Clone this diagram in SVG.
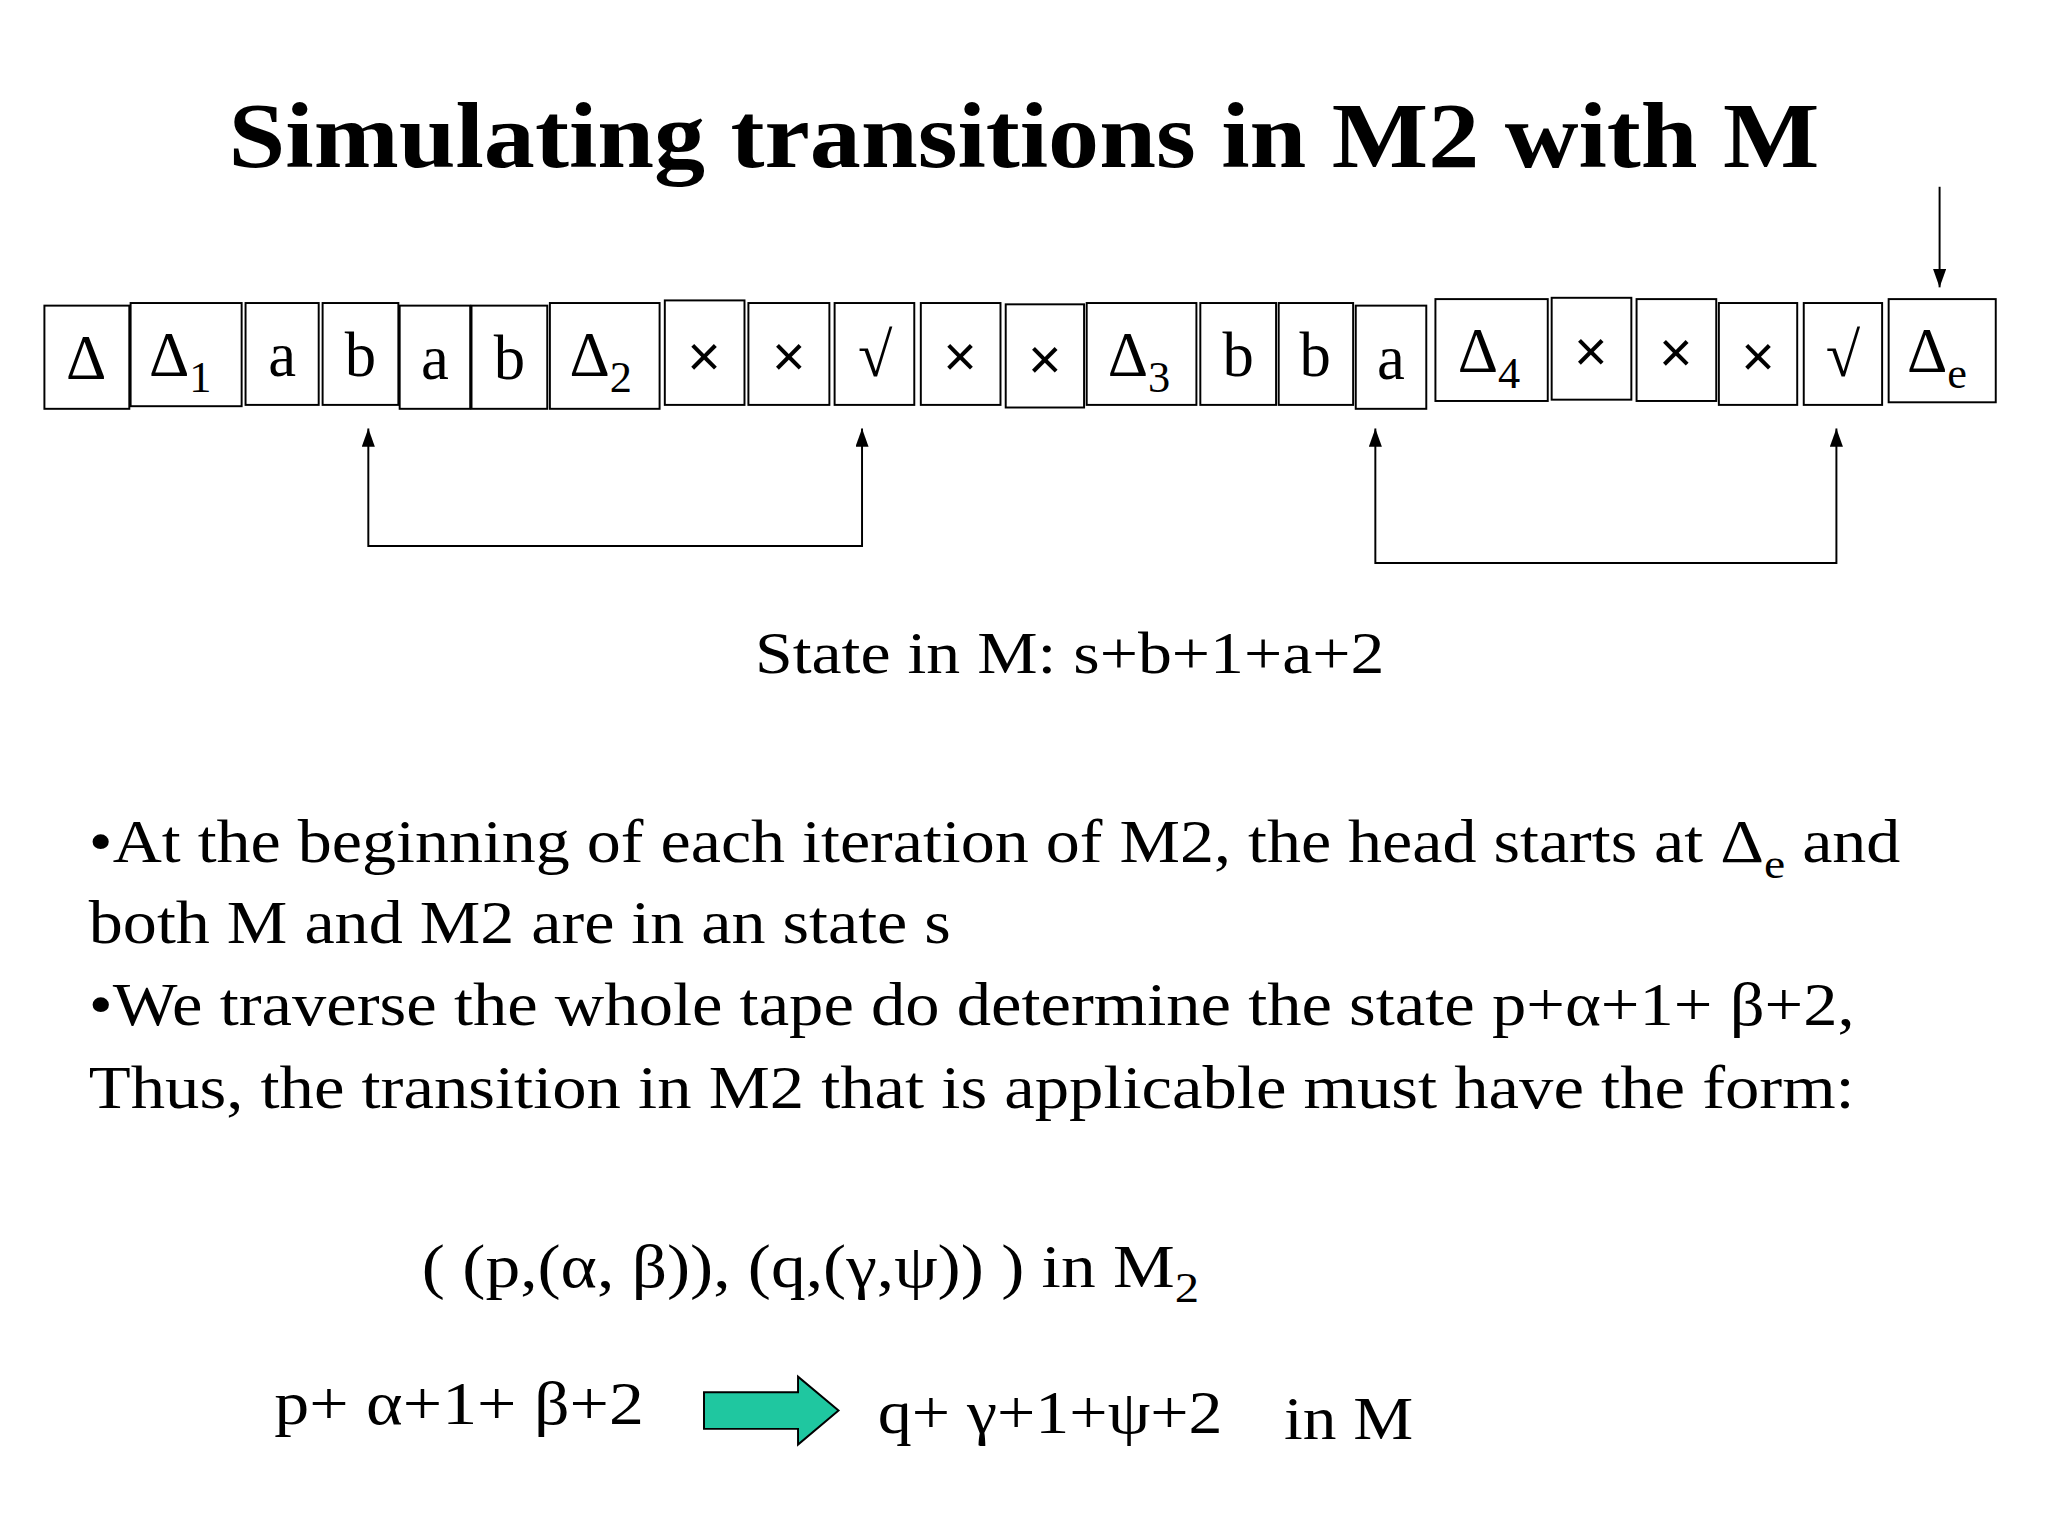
<svg xmlns="http://www.w3.org/2000/svg" width="2048" height="1536" viewBox="0 0 2048 1536">
<style>
text{font-family:"Liberation Serif","Times New Roman",serif;fill:#000}
.c rect{fill:#fff;stroke:#000;stroke-width:1.5}
.c text{font-size:48px;text-anchor:middle}
.c .x{font-family:"Liberation Sans",Arial,sans-serif;font-size:44px}
.ln{fill:none;stroke:#000;stroke-width:1.5}
.b{font-size:47px}
</style>
<defs><marker id="ah" markerWidth="14" markerHeight="10" refX="14" refY="5" orient="auto-start-reverse" markerUnits="userSpaceOnUse" viewBox="0 0 14 10"><path d="M0,0L14,5L0,10z" fill="#000"/></marker></defs>
<rect width="2048" height="1536" fill="#fff"/>
<g transform="scale(1.30612)">
<text x="175" y="128" font-size="72" font-weight="bold" textLength="1218" lengthAdjust="spacingAndGlyphs">Simulating transitions in M2 with M</text>
<g class="c" id="tape">
<g id="c1"><rect x="34" y="234" width="65" height="79"/><text x="66" y="290">Δ</text></g>
<g id="c2"><rect x="100" y="232" width="85" height="79"/><text x="138" y="288">Δ<tspan font-size="34" dy="12">1</tspan></text></g>
<g id="c3"><rect x="188" y="232" width="56" height="78"/><text x="216" y="288">a</text></g>
<g id="c4"><rect x="247" y="232" width="58" height="78"/><text x="276" y="288">b</text></g>
<g id="c5"><rect x="306" y="234" width="54" height="79"/><text x="333" y="290">a</text></g>
<g id="c6"><rect x="361" y="234" width="58" height="79"/><text x="390" y="290">b</text></g>
<g id="c7"><rect x="421" y="232" width="84" height="81"/><text x="460" y="288">Δ<tspan font-size="34" dy="12">2</tspan></text></g>
<g id="c8"><rect x="509" y="230" width="61" height="80"/><text class="x" x="539" y="288">×</text></g>
<g id="c9"><rect x="573" y="232" width="62" height="78"/><text class="x" x="604" y="288">×</text></g>
<g id="c10"><rect x="639" y="232" width="61" height="78"/><text x="670" y="288">√</text></g>
<g id="c11"><rect x="705" y="232" width="61" height="78"/><text class="x" x="735" y="288">×</text></g>
<g id="c12"><rect x="770" y="233" width="60" height="79"/><text class="x" x="800" y="290">×</text></g>
<g id="c13"><rect x="832" y="232" width="84" height="78"/><text x="872" y="288">Δ<tspan font-size="34" dy="12">3</tspan></text></g>
<g id="c14"><rect x="919" y="232" width="58" height="78"/><text x="948" y="288">b</text></g>
<g id="c15"><rect x="979" y="232" width="57" height="78"/><text x="1007" y="288">b</text></g>
<g id="c16"><rect x="1038" y="234" width="54" height="79"/><text x="1065" y="290">a</text></g>
<g id="c17"><rect x="1099" y="229" width="86" height="78"/><text x="1140" y="285">Δ<tspan font-size="34" dy="12">4</tspan></text></g>
<g id="c18"><rect x="1188" y="228" width="61" height="78"/><text class="x" x="1218" y="284">×</text></g>
<g id="c19"><rect x="1253" y="229" width="61" height="78"/><text class="x" x="1283" y="285">×</text></g>
<g id="c20"><rect x="1316" y="232" width="60" height="78"/><text class="x" x="1346" y="288">×</text></g>
<g id="c21"><rect x="1381" y="232" width="60" height="78"/><text x="1411" y="288">√</text></g>
<g id="c22"><rect x="1446" y="229" width="82" height="79"/><text x="1483" y="285">Δ<tspan font-size="34" dy="12">e</tspan></text></g>
</g>
<g id="connectors">
<path class="ln" d="M1485,143V220" marker-end="url(#ah)"/>
<path class="ln" d="M282,328V418H660V328" marker-start="url(#ah)" marker-end="url(#ah)"/>
<path class="ln" d="M1053,328V431H1406V328" marker-start="url(#ah)" marker-end="url(#ah)"/>
</g>
<text x="578" y="515" font-size="46" textLength="482" lengthAdjust="spacingAndGlyphs">State in M: s+b+1+a+2</text>
<text class="b" x="68" y="660" textLength="1387" lengthAdjust="spacingAndGlyphs">•At the beginning of each iteration of M2, the head starts at Δ<tspan font-size="33" dy="12">e</tspan><tspan dy="-12"> and</tspan></text>
<text class="b" x="68" y="722" textLength="660" lengthAdjust="spacingAndGlyphs">both M and M2 are in an state s</text>
<text class="b" x="68" y="785" textLength="1352" lengthAdjust="spacingAndGlyphs">•We traverse the whole tape do determine the state p+α+1+ β+2,</text>
<text class="b" x="68" y="848" textLength="1352" lengthAdjust="spacingAndGlyphs">Thus,  the transition in M2 that is applicable must have the form:</text>
<text class="b" x="323" y="985" textLength="595" lengthAdjust="spacingAndGlyphs">( (p,(α, β)), (q,(γ,ψ)) ) in M<tspan font-size="33" dy="12">2</tspan></text>
<text class="b" x="210" y="1090" textLength="283" lengthAdjust="spacingAndGlyphs">p+ α+1+ β+2</text>
<g id="bigarrow"><path d="M539,1066H611V1054L642,1080L611,1106V1094H539Z" fill="#1fc7a0" stroke="#000" stroke-width="1.5"/></g>
<text class="b" x="672" y="1097" textLength="264" lengthAdjust="spacingAndGlyphs">q+ γ+1+ψ+2</text>
<text class="b" x="983" y="1102" textLength="99" lengthAdjust="spacingAndGlyphs">in M</text>
</g>
</svg>
